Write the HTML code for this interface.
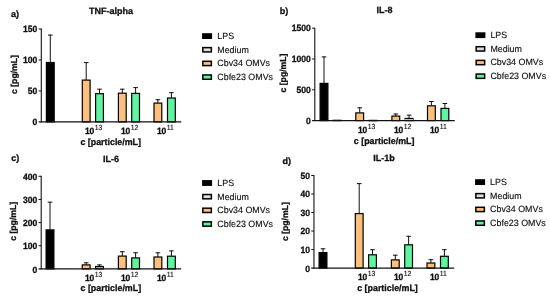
<!DOCTYPE html>
<html><head><meta charset="utf-8"><title>Cytokine figure</title>
<style>html,body{margin:0;padding:0;background:#fff}svg{display:block;filter:blur(.3px)}text{font-family:"Liberation Sans",sans-serif;fill:#111;text-rendering:geometricPrecision}.b{stroke:#111;stroke-width:.3px}.s{stroke:#111;stroke-width:.15px}</style>
</head><body>
<svg width="550" height="297" viewBox="0 0 550 297">
<rect width="550" height="297" fill="#fff"/>
<text x="111.00" y="13.80" font-size="9" font-weight="700" class="b" text-anchor="middle">TNF-alpha</text>
<text x="11.00" y="16.60" font-size="9" font-weight="700" class="b">a)</text>
<line x1="50.30" y1="34.70" x2="50.30" y2="62.40" stroke="#111" stroke-width="1.0"/>
<line x1="48.00" y1="35.10" x2="52.60" y2="35.10" stroke="#111" stroke-width="1.0"/>
<rect x="46.40" y="62.50" width="7.80" height="59.40" fill="#000" stroke="#000" stroke-width="1.2"/>
<line x1="86.20" y1="62.20" x2="86.20" y2="80.00" stroke="#111" stroke-width="1.0"/>
<line x1="83.90" y1="62.60" x2="88.50" y2="62.60" stroke="#111" stroke-width="1.0"/>
<rect x="82.30" y="80.10" width="7.80" height="41.80" fill="#FCC07A" stroke="#000" stroke-width="1.2"/>
<line x1="99.50" y1="88.80" x2="99.50" y2="93.60" stroke="#111" stroke-width="1.0"/>
<line x1="97.20" y1="89.20" x2="101.80" y2="89.20" stroke="#111" stroke-width="1.0"/>
<rect x="95.60" y="93.70" width="7.80" height="28.20" fill="#5EF4A0" stroke="#000" stroke-width="1.2"/>
<line x1="122.30" y1="88.80" x2="122.30" y2="93.10" stroke="#111" stroke-width="1.0"/>
<line x1="120.00" y1="89.20" x2="124.60" y2="89.20" stroke="#111" stroke-width="1.0"/>
<rect x="118.40" y="93.20" width="7.80" height="28.70" fill="#FCC07A" stroke="#000" stroke-width="1.2"/>
<line x1="135.60" y1="87.20" x2="135.60" y2="93.30" stroke="#111" stroke-width="1.0"/>
<line x1="133.30" y1="87.60" x2="137.90" y2="87.60" stroke="#111" stroke-width="1.0"/>
<rect x="131.70" y="93.40" width="7.80" height="28.50" fill="#5EF4A0" stroke="#000" stroke-width="1.2"/>
<line x1="157.90" y1="99.30" x2="157.90" y2="103.00" stroke="#111" stroke-width="1.0"/>
<line x1="155.60" y1="99.70" x2="160.20" y2="99.70" stroke="#111" stroke-width="1.0"/>
<rect x="154.00" y="103.10" width="7.80" height="18.80" fill="#FCC07A" stroke="#000" stroke-width="1.2"/>
<line x1="171.40" y1="92.30" x2="171.40" y2="97.90" stroke="#111" stroke-width="1.0"/>
<line x1="169.10" y1="92.70" x2="173.70" y2="92.70" stroke="#111" stroke-width="1.0"/>
<rect x="167.50" y="98.00" width="7.80" height="23.90" fill="#5EF4A0" stroke="#000" stroke-width="1.2"/>
<line x1="41.30" y1="28.50" x2="41.30" y2="122.40" stroke="#111" stroke-width="1.1"/>
<line x1="38.60" y1="121.90" x2="181.20" y2="121.90" stroke="#111" stroke-width="1.1"/>
<line x1="38.60" y1="29.00" x2="41.30" y2="29.00" stroke="#111" stroke-width="1.0"/>
<text transform="translate(37.30,32.30) scale(0.94,1)" font-size="9.1" font-weight="700" class="b" text-anchor="end">150</text>
<line x1="38.60" y1="59.97" x2="41.30" y2="59.97" stroke="#111" stroke-width="1.0"/>
<text transform="translate(37.30,63.27) scale(0.94,1)" font-size="9.1" font-weight="700" class="b" text-anchor="end">100</text>
<line x1="38.60" y1="90.93" x2="41.30" y2="90.93" stroke="#111" stroke-width="1.0"/>
<text transform="translate(37.30,94.23) scale(0.94,1)" font-size="9.1" font-weight="700" class="b" text-anchor="end">50</text>
<text transform="translate(37.30,125.20) scale(0.94,1)" font-size="9.1" font-weight="700" class="b" text-anchor="end">0</text>
<text transform="translate(84.90,134.00) scale(0.93,1)" font-size="9.1" font-weight="700" class="b">10</text>
<text transform="translate(94.80,129.80) scale(0.92,1)" font-size="7.4" class="s">13</text>
<text transform="translate(120.90,134.00) scale(0.93,1)" font-size="9.1" font-weight="700" class="b">10</text>
<text transform="translate(130.80,129.80) scale(0.92,1)" font-size="7.4" class="s">12</text>
<text transform="translate(156.90,134.00) scale(0.93,1)" font-size="9.1" font-weight="700" class="b">10</text>
<text transform="translate(166.80,129.80) scale(0.92,1)" font-size="7.4" class="s">11</text>
<text x="80.40" y="144.70" font-size="9.1" font-weight="700" class="b" textLength="60.60" lengthAdjust="spacingAndGlyphs">c [particle/mL]</text>
<text transform="translate(17.40,74.50) rotate(-90)" font-size="8.7" font-weight="700" class="b" text-anchor="middle" textLength="39.0" lengthAdjust="spacingAndGlyphs">c [pg/mL]</text>
<rect x="202.85" y="33.95" width="8.5" height="4.3" fill="#000" stroke="#000" stroke-width="1.5"/>
<text transform="translate(217.30,38.95) scale(0.975,1)" font-size="9.1" class="s">LPS</text>
<rect x="202.85" y="47.62" width="8.5" height="4.3" fill="#DEDEDE" stroke="#000" stroke-width="1.5"/>
<text transform="translate(217.30,52.62) scale(0.975,1)" font-size="9.1" class="s">Medium</text>
<rect x="202.85" y="61.29" width="8.5" height="4.3" fill="#FCC07A" stroke="#000" stroke-width="1.5"/>
<text transform="translate(217.30,66.29) scale(0.975,1)" font-size="9.1" class="s">Cbv34 OMVs</text>
<rect x="202.85" y="74.96" width="8.5" height="4.3" fill="#5EF4A0" stroke="#000" stroke-width="1.5"/>
<text transform="translate(217.30,79.96) scale(0.975,1)" font-size="9.1" class="s">Cbfe23 OMVs</text>
<text x="384.50" y="13.35" font-size="9" font-weight="700" class="b" text-anchor="middle">IL-8</text>
<text x="279.80" y="13.70" font-size="9" font-weight="700" class="b">b)</text>
<line x1="324.00" y1="56.50" x2="324.00" y2="83.30" stroke="#111" stroke-width="1.0"/>
<line x1="321.70" y1="56.90" x2="326.30" y2="56.90" stroke="#111" stroke-width="1.0"/>
<rect x="320.10" y="83.40" width="7.80" height="37.20" fill="#000" stroke="#000" stroke-width="1.2"/>
<rect x="333.20" y="120.30" width="7.80" height="0.30" fill="#DEDEDE" stroke="#000" stroke-width="1.2"/>
<line x1="359.70" y1="107.40" x2="359.70" y2="112.80" stroke="#111" stroke-width="1.0"/>
<line x1="357.40" y1="107.80" x2="362.00" y2="107.80" stroke="#111" stroke-width="1.0"/>
<rect x="355.80" y="112.90" width="7.80" height="7.70" fill="#FCC07A" stroke="#000" stroke-width="1.2"/>
<rect x="369.10" y="120.40" width="7.80" height="0.30" fill="#5EF4A0" stroke="#000" stroke-width="1.2"/>
<line x1="395.80" y1="113.60" x2="395.80" y2="116.00" stroke="#111" stroke-width="1.0"/>
<line x1="393.50" y1="114.00" x2="398.10" y2="114.00" stroke="#111" stroke-width="1.0"/>
<rect x="391.90" y="116.10" width="7.80" height="4.50" fill="#FCC07A" stroke="#000" stroke-width="1.2"/>
<line x1="409.10" y1="114.80" x2="409.10" y2="118.30" stroke="#111" stroke-width="1.0"/>
<line x1="406.80" y1="115.20" x2="411.40" y2="115.20" stroke="#111" stroke-width="1.0"/>
<rect x="405.20" y="118.40" width="7.80" height="2.20" fill="#5EF4A0" stroke="#000" stroke-width="1.2"/>
<line x1="431.40" y1="101.10" x2="431.40" y2="105.70" stroke="#111" stroke-width="1.0"/>
<line x1="429.10" y1="101.50" x2="433.70" y2="101.50" stroke="#111" stroke-width="1.0"/>
<rect x="427.50" y="105.80" width="7.80" height="14.80" fill="#FCC07A" stroke="#000" stroke-width="1.2"/>
<line x1="444.90" y1="103.10" x2="444.90" y2="108.30" stroke="#111" stroke-width="1.0"/>
<line x1="442.60" y1="103.50" x2="447.20" y2="103.50" stroke="#111" stroke-width="1.0"/>
<rect x="441.00" y="108.40" width="7.80" height="12.20" fill="#5EF4A0" stroke="#000" stroke-width="1.2"/>
<line x1="314.80" y1="27.70" x2="314.80" y2="121.10" stroke="#111" stroke-width="1.1"/>
<line x1="312.10" y1="120.60" x2="454.70" y2="120.60" stroke="#111" stroke-width="1.1"/>
<line x1="312.10" y1="28.20" x2="314.80" y2="28.20" stroke="#111" stroke-width="1.0"/>
<text transform="translate(310.80,31.00) scale(0.94,1)" font-size="9.1" font-weight="700" class="b" text-anchor="end">1500</text>
<line x1="312.10" y1="59.00" x2="314.80" y2="59.00" stroke="#111" stroke-width="1.0"/>
<text transform="translate(310.80,61.80) scale(0.94,1)" font-size="9.1" font-weight="700" class="b" text-anchor="end">1000</text>
<line x1="312.10" y1="89.80" x2="314.80" y2="89.80" stroke="#111" stroke-width="1.0"/>
<text transform="translate(310.80,92.60) scale(0.94,1)" font-size="9.1" font-weight="700" class="b" text-anchor="end">500</text>
<text transform="translate(310.80,123.90) scale(0.94,1)" font-size="9.1" font-weight="700" class="b" text-anchor="end">0</text>
<text transform="translate(357.90,133.10) scale(0.93,1)" font-size="9.1" font-weight="700" class="b">10</text>
<text transform="translate(367.80,128.90) scale(0.92,1)" font-size="7.4" class="s">13</text>
<text transform="translate(393.90,133.10) scale(0.93,1)" font-size="9.1" font-weight="700" class="b">10</text>
<text transform="translate(403.80,128.90) scale(0.92,1)" font-size="7.4" class="s">12</text>
<text transform="translate(429.90,133.10) scale(0.93,1)" font-size="9.1" font-weight="700" class="b">10</text>
<text transform="translate(439.80,128.90) scale(0.92,1)" font-size="7.4" class="s">11</text>
<text x="353.80" y="144.00" font-size="9.1" font-weight="700" class="b" textLength="60.60" lengthAdjust="spacingAndGlyphs">c [particle/mL]</text>
<text transform="translate(286.00,73.00) rotate(-90)" font-size="8.7" font-weight="700" class="b" text-anchor="middle" textLength="39.0" lengthAdjust="spacingAndGlyphs">c [pg/mL]</text>
<rect x="476.15" y="33.05" width="8.5" height="4.3" fill="#000" stroke="#000" stroke-width="1.5"/>
<text transform="translate(490.40,38.05) scale(0.975,1)" font-size="9.1" class="s">LPS</text>
<rect x="476.15" y="46.72" width="8.5" height="4.3" fill="#DEDEDE" stroke="#000" stroke-width="1.5"/>
<text transform="translate(490.40,51.72) scale(0.975,1)" font-size="9.1" class="s">Medium</text>
<rect x="476.15" y="60.39" width="8.5" height="4.3" fill="#FCC07A" stroke="#000" stroke-width="1.5"/>
<text transform="translate(490.40,65.39) scale(0.975,1)" font-size="9.1" class="s">Cbv34 OMVs</text>
<rect x="476.15" y="74.06" width="8.5" height="4.3" fill="#5EF4A0" stroke="#000" stroke-width="1.5"/>
<text transform="translate(490.40,79.06) scale(0.975,1)" font-size="9.1" class="s">Cbfe23 OMVs</text>
<text x="111.00" y="161.70" font-size="9" font-weight="700" class="b" text-anchor="middle">IL-6</text>
<text x="11.20" y="161.20" font-size="9" font-weight="700" class="b">c)</text>
<line x1="50.00" y1="201.80" x2="50.00" y2="229.80" stroke="#111" stroke-width="1.0"/>
<line x1="47.70" y1="202.20" x2="52.30" y2="202.20" stroke="#111" stroke-width="1.0"/>
<rect x="46.10" y="229.90" width="7.80" height="39.00" fill="#000" stroke="#000" stroke-width="1.2"/>
<line x1="86.20" y1="262.40" x2="86.20" y2="264.80" stroke="#111" stroke-width="1.0"/>
<line x1="83.90" y1="262.80" x2="88.50" y2="262.80" stroke="#111" stroke-width="1.0"/>
<rect x="82.30" y="264.90" width="7.80" height="4.00" fill="#FCC07A" stroke="#000" stroke-width="1.2"/>
<line x1="99.50" y1="264.50" x2="99.50" y2="266.40" stroke="#111" stroke-width="1.0"/>
<line x1="97.20" y1="264.90" x2="101.80" y2="264.90" stroke="#111" stroke-width="1.0"/>
<rect x="95.60" y="266.50" width="7.80" height="2.40" fill="#5EF4A0" stroke="#000" stroke-width="1.2"/>
<line x1="122.30" y1="251.30" x2="122.30" y2="256.00" stroke="#111" stroke-width="1.0"/>
<line x1="120.00" y1="251.70" x2="124.60" y2="251.70" stroke="#111" stroke-width="1.0"/>
<rect x="118.40" y="256.10" width="7.80" height="12.80" fill="#FCC07A" stroke="#000" stroke-width="1.2"/>
<line x1="135.60" y1="252.40" x2="135.60" y2="257.80" stroke="#111" stroke-width="1.0"/>
<line x1="133.30" y1="252.80" x2="137.90" y2="252.80" stroke="#111" stroke-width="1.0"/>
<rect x="131.70" y="257.90" width="7.80" height="11.00" fill="#5EF4A0" stroke="#000" stroke-width="1.2"/>
<line x1="157.90" y1="252.40" x2="157.90" y2="256.90" stroke="#111" stroke-width="1.0"/>
<line x1="155.60" y1="252.80" x2="160.20" y2="252.80" stroke="#111" stroke-width="1.0"/>
<rect x="154.00" y="257.00" width="7.80" height="11.90" fill="#FCC07A" stroke="#000" stroke-width="1.2"/>
<line x1="171.40" y1="250.50" x2="171.40" y2="256.10" stroke="#111" stroke-width="1.0"/>
<line x1="169.10" y1="250.90" x2="173.70" y2="250.90" stroke="#111" stroke-width="1.0"/>
<rect x="167.50" y="256.20" width="7.80" height="12.70" fill="#5EF4A0" stroke="#000" stroke-width="1.2"/>
<line x1="41.20" y1="175.80" x2="41.20" y2="269.40" stroke="#111" stroke-width="1.1"/>
<line x1="38.50" y1="268.90" x2="181.20" y2="268.90" stroke="#111" stroke-width="1.1"/>
<line x1="38.50" y1="176.30" x2="41.20" y2="176.30" stroke="#111" stroke-width="1.0"/>
<text transform="translate(37.20,179.60) scale(0.94,1)" font-size="9.1" font-weight="700" class="b" text-anchor="end">400</text>
<line x1="38.50" y1="199.45" x2="41.20" y2="199.45" stroke="#111" stroke-width="1.0"/>
<text transform="translate(37.20,202.75) scale(0.94,1)" font-size="9.1" font-weight="700" class="b" text-anchor="end">300</text>
<line x1="38.50" y1="222.60" x2="41.20" y2="222.60" stroke="#111" stroke-width="1.0"/>
<text transform="translate(37.20,225.90) scale(0.94,1)" font-size="9.1" font-weight="700" class="b" text-anchor="end">200</text>
<line x1="38.50" y1="245.75" x2="41.20" y2="245.75" stroke="#111" stroke-width="1.0"/>
<text transform="translate(37.20,249.05) scale(0.94,1)" font-size="9.1" font-weight="700" class="b" text-anchor="end">100</text>
<text transform="translate(37.20,272.60) scale(0.94,1)" font-size="9.1" font-weight="700" class="b" text-anchor="end">0</text>
<text transform="translate(84.90,281.40) scale(0.93,1)" font-size="9.1" font-weight="700" class="b">10</text>
<text transform="translate(94.80,277.20) scale(0.92,1)" font-size="7.4" class="s">13</text>
<text transform="translate(120.90,281.40) scale(0.93,1)" font-size="9.1" font-weight="700" class="b">10</text>
<text transform="translate(130.80,277.20) scale(0.92,1)" font-size="7.4" class="s">12</text>
<text transform="translate(156.90,281.40) scale(0.93,1)" font-size="9.1" font-weight="700" class="b">10</text>
<text transform="translate(166.80,277.20) scale(0.92,1)" font-size="7.4" class="s">11</text>
<text x="80.50" y="291.40" font-size="9.1" font-weight="700" class="b" textLength="60.60" lengthAdjust="spacingAndGlyphs">c [particle/mL]</text>
<text transform="translate(16.40,221.30) rotate(-90)" font-size="8.7" font-weight="700" class="b" text-anchor="middle" textLength="39.0" lengthAdjust="spacingAndGlyphs">c [pg/mL]</text>
<rect x="202.85" y="180.85" width="8.5" height="4.3" fill="#000" stroke="#000" stroke-width="1.5"/>
<text transform="translate(217.30,185.85) scale(0.975,1)" font-size="9.1" class="s">LPS</text>
<rect x="202.85" y="194.52" width="8.5" height="4.3" fill="#DEDEDE" stroke="#000" stroke-width="1.5"/>
<text transform="translate(217.30,199.52) scale(0.975,1)" font-size="9.1" class="s">Medium</text>
<rect x="202.85" y="208.19" width="8.5" height="4.3" fill="#FCC07A" stroke="#000" stroke-width="1.5"/>
<text transform="translate(217.30,213.19) scale(0.975,1)" font-size="9.1" class="s">Cbv34 OMVs</text>
<rect x="202.85" y="221.86" width="8.5" height="4.3" fill="#5EF4A0" stroke="#000" stroke-width="1.5"/>
<text transform="translate(217.30,226.86) scale(0.975,1)" font-size="9.1" class="s">Cbfe23 OMVs</text>
<text x="383.90" y="160.50" font-size="9" font-weight="700" class="b" text-anchor="middle">IL-1b</text>
<text x="282.40" y="163.60" font-size="9" font-weight="700" class="b">d)</text>
<line x1="323.00" y1="248.40" x2="323.00" y2="252.50" stroke="#111" stroke-width="1.0"/>
<line x1="320.70" y1="248.80" x2="325.30" y2="248.80" stroke="#111" stroke-width="1.0"/>
<rect x="319.10" y="252.60" width="7.80" height="15.50" fill="#000" stroke="#000" stroke-width="1.2"/>
<line x1="359.20" y1="183.20" x2="359.20" y2="213.50" stroke="#111" stroke-width="1.0"/>
<line x1="356.90" y1="183.60" x2="361.50" y2="183.60" stroke="#111" stroke-width="1.0"/>
<rect x="355.30" y="213.60" width="7.80" height="54.50" fill="#FCC07A" stroke="#000" stroke-width="1.2"/>
<line x1="372.50" y1="249.30" x2="372.50" y2="254.70" stroke="#111" stroke-width="1.0"/>
<line x1="370.20" y1="249.70" x2="374.80" y2="249.70" stroke="#111" stroke-width="1.0"/>
<rect x="368.60" y="254.80" width="7.80" height="13.30" fill="#5EF4A0" stroke="#000" stroke-width="1.2"/>
<line x1="395.30" y1="254.80" x2="395.30" y2="259.80" stroke="#111" stroke-width="1.0"/>
<line x1="393.00" y1="255.20" x2="397.60" y2="255.20" stroke="#111" stroke-width="1.0"/>
<rect x="391.40" y="259.90" width="7.80" height="8.20" fill="#FCC07A" stroke="#000" stroke-width="1.2"/>
<line x1="408.60" y1="235.90" x2="408.60" y2="244.70" stroke="#111" stroke-width="1.0"/>
<line x1="406.30" y1="236.30" x2="410.90" y2="236.30" stroke="#111" stroke-width="1.0"/>
<rect x="404.70" y="244.80" width="7.80" height="23.30" fill="#5EF4A0" stroke="#000" stroke-width="1.2"/>
<line x1="430.90" y1="259.30" x2="430.90" y2="262.90" stroke="#111" stroke-width="1.0"/>
<line x1="428.60" y1="259.70" x2="433.20" y2="259.70" stroke="#111" stroke-width="1.0"/>
<rect x="427.00" y="263.00" width="7.80" height="5.10" fill="#FCC07A" stroke="#000" stroke-width="1.2"/>
<line x1="444.40" y1="249.30" x2="444.40" y2="256.20" stroke="#111" stroke-width="1.0"/>
<line x1="442.10" y1="249.70" x2="446.70" y2="249.70" stroke="#111" stroke-width="1.0"/>
<rect x="440.50" y="256.30" width="7.80" height="11.80" fill="#5EF4A0" stroke="#000" stroke-width="1.2"/>
<line x1="313.95" y1="175.00" x2="313.95" y2="268.60" stroke="#111" stroke-width="1.1"/>
<line x1="311.25" y1="268.10" x2="454.20" y2="268.10" stroke="#111" stroke-width="1.1"/>
<line x1="311.25" y1="175.50" x2="313.95" y2="175.50" stroke="#111" stroke-width="1.0"/>
<text transform="translate(309.95,178.80) scale(0.94,1)" font-size="9.1" font-weight="700" class="b" text-anchor="end">50</text>
<line x1="311.25" y1="194.02" x2="313.95" y2="194.02" stroke="#111" stroke-width="1.0"/>
<text transform="translate(309.95,197.32) scale(0.94,1)" font-size="9.1" font-weight="700" class="b" text-anchor="end">40</text>
<line x1="311.25" y1="212.54" x2="313.95" y2="212.54" stroke="#111" stroke-width="1.0"/>
<text transform="translate(309.95,215.84) scale(0.94,1)" font-size="9.1" font-weight="700" class="b" text-anchor="end">30</text>
<line x1="311.25" y1="231.06" x2="313.95" y2="231.06" stroke="#111" stroke-width="1.0"/>
<text transform="translate(309.95,234.36) scale(0.94,1)" font-size="9.1" font-weight="700" class="b" text-anchor="end">20</text>
<line x1="311.25" y1="249.58" x2="313.95" y2="249.58" stroke="#111" stroke-width="1.0"/>
<text transform="translate(309.95,252.88) scale(0.94,1)" font-size="9.1" font-weight="700" class="b" text-anchor="end">10</text>
<text transform="translate(309.95,271.90) scale(0.94,1)" font-size="9.1" font-weight="700" class="b" text-anchor="end">0</text>
<text transform="translate(357.90,280.00) scale(0.93,1)" font-size="9.1" font-weight="700" class="b">10</text>
<text transform="translate(367.80,275.80) scale(0.92,1)" font-size="7.4" class="s">13</text>
<text transform="translate(393.90,280.00) scale(0.93,1)" font-size="9.1" font-weight="700" class="b">10</text>
<text transform="translate(403.80,275.80) scale(0.92,1)" font-size="7.4" class="s">12</text>
<text transform="translate(429.90,280.00) scale(0.93,1)" font-size="9.1" font-weight="700" class="b">10</text>
<text transform="translate(439.80,275.80) scale(0.92,1)" font-size="7.4" class="s">11</text>
<text x="357.20" y="290.80" font-size="9.1" font-weight="700" class="b" textLength="60.60" lengthAdjust="spacingAndGlyphs">c [particle/mL]</text>
<text transform="translate(288.20,221.60) rotate(-90)" font-size="8.7" font-weight="700" class="b" text-anchor="middle" textLength="39.0" lengthAdjust="spacingAndGlyphs">c [pg/mL]</text>
<rect x="475.85" y="179.95" width="8.5" height="4.3" fill="#000" stroke="#000" stroke-width="1.5"/>
<text transform="translate(490.10,184.95) scale(0.975,1)" font-size="9.1" class="s">LPS</text>
<rect x="475.85" y="193.62" width="8.5" height="4.3" fill="#DEDEDE" stroke="#000" stroke-width="1.5"/>
<text transform="translate(490.10,198.62) scale(0.975,1)" font-size="9.1" class="s">Medium</text>
<rect x="475.85" y="207.29" width="8.5" height="4.3" fill="#FCC07A" stroke="#000" stroke-width="1.5"/>
<text transform="translate(490.10,212.29) scale(0.975,1)" font-size="9.1" class="s">Cbv34 OMVs</text>
<rect x="475.85" y="220.96" width="8.5" height="4.3" fill="#5EF4A0" stroke="#000" stroke-width="1.5"/>
<text transform="translate(490.10,225.96) scale(0.975,1)" font-size="9.1" class="s">Cbfe23 OMVs</text>
</svg>
</body></html>
